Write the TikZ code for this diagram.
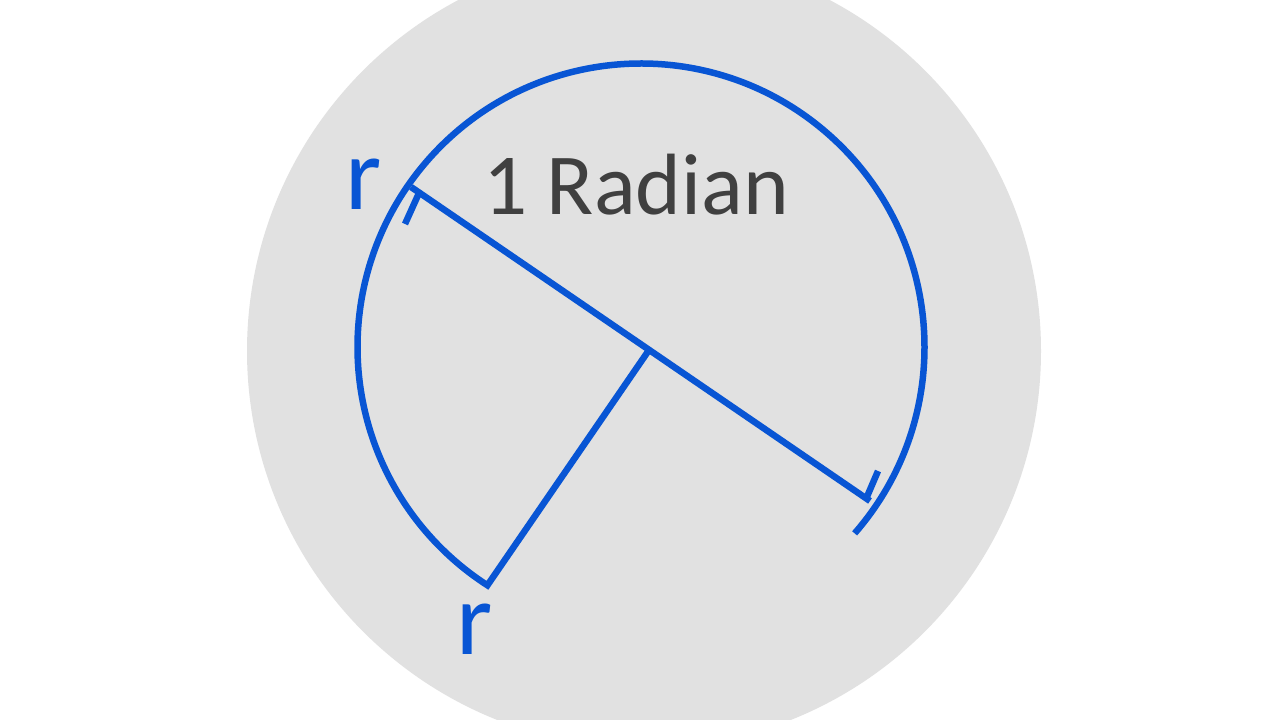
\documentclass[tikz,border=0pt]{standalone}
\usepackage{fontspec}
\setmainfont{Carlito}
\definecolor{bgcircle}{RGB}{225,225,225}
\definecolor{radblue}{RGB}{8,85,212}
\definecolor{txtgrey}{RGB}{64,64,64}
\begin{document}
\begin{tikzpicture}[x=1pt,y=1pt,
  blueline/.style={draw=radblue,line width=6.5pt,line join=miter},
  bigtext/.style={inner sep=0pt,text=txtgrey,font=\fontsize{87}{87}\selectfont},
  rlabel/.style={inner sep=0pt,text=radblue,font=\fontsize{104}{104}\selectfont}]
\useasboundingbox[fill=white] (0,0) rectangle (1280,720);
\fill[bgcircle] (644,369) circle[radius=397];
\coordinate (C) at (641,373);
\coordinate (D1) at (411,533);
\coordinate (D2) at (870,219);
\coordinate (J) at (649,370);
\coordinate (A2) at ([shift={(-41.1:283.5)}]C);
\coordinate (T1a) at (419,527);
\coordinate (T1b) at (405,496);
\coordinate (T2a) at (866,221);
\coordinate (T2b) at (878,249);
% arc and radius
\draw[blueline] (A2) arc[start angle=-41.1,end angle=237.2,radius=283.5] -- (J);
% diameter
\draw[blueline] (D1) -- (D2);
% ticks
\draw[blueline] (T1a) -- (T1b);
\draw[blueline] (T2a) -- (T2b);
% labels
\node[bigtext,anchor=base west] (title) at (483,505) {1 Radian};
\node[rlabel,anchor=base] (r1) at (364,510) {r};
\node[rlabel,anchor=base] (r2) at (475,65) {r};
\end{tikzpicture}
\end{document}
